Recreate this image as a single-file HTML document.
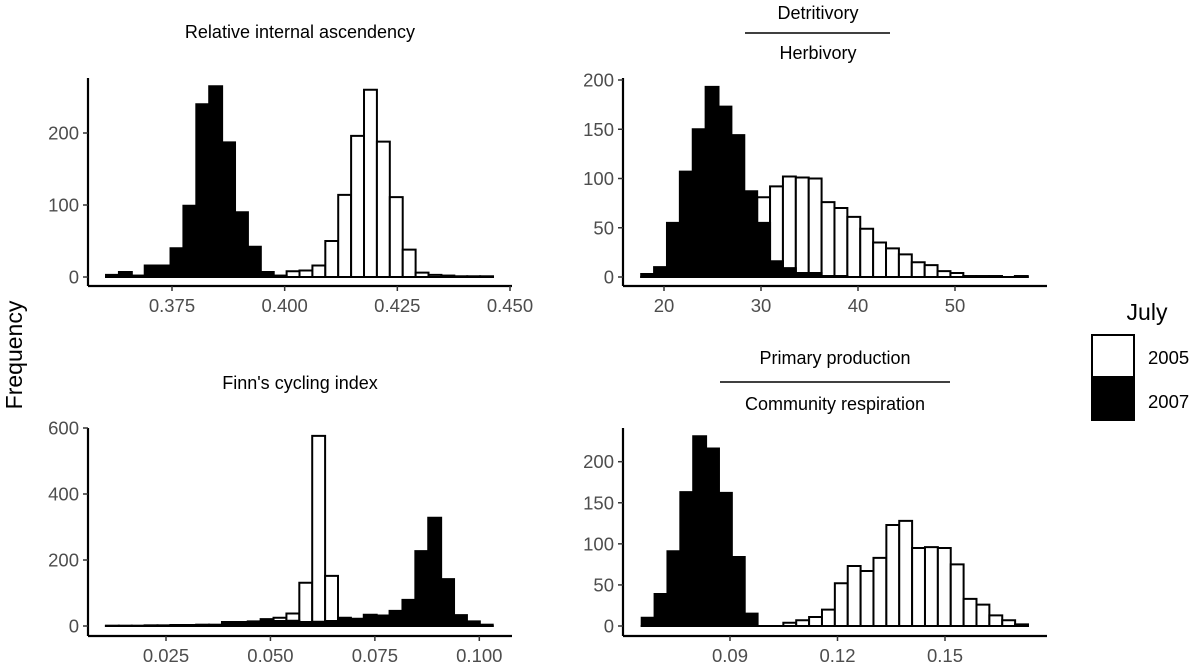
<!DOCTYPE html>
<html><head><meta charset="utf-8"><style>
html,body{margin:0;padding:0;background:#fff;}
svg{display:block;font-family:"Liberation Sans",Arial,sans-serif;}
.tick{fill:#4d4d4d;font-size:18.5px;}
.title{fill:#000;font-size:18px;}
</style></head><body>
<svg id="chart" width="1200" height="666" viewBox="0 0 1200 666">
<text x="22" y="355" transform="rotate(-90 22 355)" text-anchor="middle" font-size="23">Frequency</text>
<text x="300" y="38" text-anchor="middle" class="title">Relative internal ascendency</text>
<g>
<text x="818" y="19" text-anchor="middle" class="title">Detritivory</text>
<line x1="745" x2="890" y1="33" y2="33" stroke="#000" stroke-width="1.5"/>
<text x="818" y="59" text-anchor="middle" class="title">Herbivory</text></g>
<text x="300" y="389" text-anchor="middle" class="title">Finn's cycling index</text>
<g>
<text x="835" y="364" text-anchor="middle" class="title">Primary production</text>
<line x1="720" x2="950" y1="382" y2="382" stroke="#000" stroke-width="1.5"/>
<text x="835" y="410" text-anchor="middle" class="title">Community respiration</text></g>
<g>
<text x="1147" y="320" text-anchor="middle" font-size="23">July</text>
<rect x="1092" y="335" width="42" height="42" fill="#fff" stroke="#000" stroke-width="2"/>
<rect x="1091" y="378" width="44" height="43" fill="#000"/>
<text x="1148" y="364" font-size="18.5">2005</text>
<text x="1148" y="408" font-size="18.5">2007</text>
</g>
</svg>
<script>
// Panel 1: Relative internal ascendency
const p1Range = [0.36036, 0.44623];
const p1White = [0,0,0,0,0,0,0,0,0,0,0,0,0,0,8,9,16,50,114,196,260,188,111,38,6,3,2,1,1,1];
const p1Black = [3,7,2,16,16,40,99,240,265,187,90,42,7,2,0,0,0,0,0,0,0,0,0,0,0,0,0,0,0,0];
const p1XTicks = [0.375,0.400,0.425,0.450];
const p1XLabels = ["0.375","0.400","0.425","0.450"];
const p1YTicks = [0,100,200];
// Panel 2: Detritivory / Herbivory
const p2Range = [17.65, 57.5];
const p2White = [0,0,0,0,0,0,20,45,60,81,92,102,101,100,76,70,61,49,35,29,23,15,12,6,4,1,1,1,0,1];
const p2Black = [3,10,55,107,150,193,173,144,87,55,16,9,4,4,1,1,0,0,0,0,0,0,0,0,0,0,0,0,0,0];
const p2XTicks = [20,30,40,50];
const p2XLabels = ["20","30","40","50"];
const p2YTicks = [0,50,100,150,200];
// Panel 3: Finn's cycling index
const p3Range = [0.01062, 0.10321];
const p3White = [0,0,0,0,0,0,0,0,0,0,0,0,21,25,38,131,576,152,0,0,0,0,0,0,0,0,0,0,0,0];
const p3Black = [1,1,1,2,2,3,3,4,4,12,12,14,15,15,16,12,13,15,25,22,34,32,46,79,227,328,142,33,14,4];
const p3XTicks = [0.025,0.050,0.075,0.100];
const p3XLabels = ["0.025","0.050","0.075","0.100"];
const p3YTicks = [0,200,400,600];
// Panel 4: Primary production / Community respiration
const p4Range = [0.06536, 0.17316];
const p4White = [0,0,0,0,0,0,0,0,0,0,0,4,7,11,20,52,73,67,83,123,128,95,96,95,75,33,26,13,7,2];
const p4Black = [10,39,91,163,231,216,162,84,15,0,0,0,0,0,0,0,0,0,0,0,0,0,0,0,0,0,0,0,0,0];
const p4XTicks = [0.09,0.12,0.15];
const p4XLabels = ["0.09","0.12","0.15"];
const p4YTicks = [0,50,100,150,200];

const NS='http://www.w3.org/2000/svg';
const svg=document.getElementById('chart');
function mk(tag,attrs,parent){const e=document.createElementNS(NS,tag);for(const k in attrs)e.setAttribute(k,attrs[k]);(parent||svg).appendChild(e);return e;}

function panel(cfg){
  const g=mk('g',{});
  
  
  const xs=v=>cfg.xp[0]+(v-cfg.xd[0])/(cfg.xd[1]-cfg.xd[0])*(cfg.xp[1]-cfg.xp[0]);
  const ys=v=>cfg.yp[0]+(v-cfg.yd[0])/(cfg.yd[1]-cfg.yd[0])*(cfg.yp[1]-cfg.yp[0]);
  const n=cfg.white.length, bw=(cfg.range[1]-cfg.range[0])/n;
  const base=mk('line',{x1:xs(cfg.range[0])-1,x2:xs(cfg.range[1])+1,y1:ys(0),y2:ys(0),stroke:'#000','stroke-width':2},g);
  
  
  [['white','#fff',cfg.white],['black','#000',cfg.black]].forEach(([nm,fill,arr])=>{
    arr.forEach((v,i)=>{
      const x0=xs(cfg.range[0]+i*bw), x1=xs(cfg.range[0]+(i+1)*bw);
      const y0=ys(0), y1=ys(v);
      const r=mk('path',{d:`M${x0},${y0}L${x0},${y1}L${x1},${y1}L${x1},${y0}Z`,fill:fill,stroke:'#000','stroke-width':2},g);
      
      
    });
  });
  const xa=mk('g',{},g);
  
  
  mk('line',{x1:cfg.axL,x2:cfg.axR,y1:cfg.axY,y2:cfg.axY,stroke:'#000','stroke-width':2.2},xa);
  cfg.xt.forEach((t,i)=>{const x=xs(t);
    mk('line',{x1:x,x2:x,y1:cfg.axY,y2:cfg.axY+5,stroke:'#333','stroke-width':1.5},xa);
    const tx=mk('text',{x:x,y:cfg.axY+26,'text-anchor':'middle',class:'tick'},xa);tx.textContent=cfg.xl[i];
    
    });
  const ya=mk('g',{},g);
  
  
  mk('line',{x1:cfg.axL,x2:cfg.axL,y1:cfg.axTop,y2:cfg.axY,stroke:'#000','stroke-width':2.2},ya);
  cfg.yt.forEach(t=>{const y=ys(t);
    mk('line',{x1:cfg.axL-5,x2:cfg.axL,y1:y,y2:y,stroke:'#333','stroke-width':1.5},ya);
    const tx=mk('text',{x:cfg.axL-9,y:y+6.5,'text-anchor':'end',class:'tick'},ya);tx.textContent=String(t);
    
    });
}
panel({name:'panel-ascendency',range:p1Range,white:p1White,black:p1Black,xt:p1XTicks,xl:p1XLabels,yt:p1YTicks,
  xd:[0.375,0.450],xp:[172,510],yd:[0,200],yp:[277,133],axL:88,axR:512,axY:286,axTop:78});
panel({name:'panel-detritivory',range:p2Range,white:p2White,black:p2Black,xt:p2XTicks,xl:p2XLabels,yt:p2YTicks,
  xd:[20,50],xp:[664,955],yd:[0,200],yp:[277,80],axL:623,axR:1047,axY:286,axTop:78});
panel({name:'panel-finn',range:p3Range,white:p3White,black:p3Black,xt:p3XTicks,xl:p3XLabels,yt:p3YTicks,
  xd:[0.025,0.100],xp:[166,479.3],yd:[0,600],yp:[626,428],axL:88,axR:512,axY:636,axTop:428});
panel({name:'panel-pp-cr',range:p4Range,white:p4White,black:p4Black,xt:p4XTicks,xl:p4XLabels,yt:p4YTicks,
  xd:[0.09,0.15],xp:[730,945],yd:[0,200],yp:[626,461.7],axL:623,axR:1047,axY:636,axTop:428});
</script>
</body></html>
